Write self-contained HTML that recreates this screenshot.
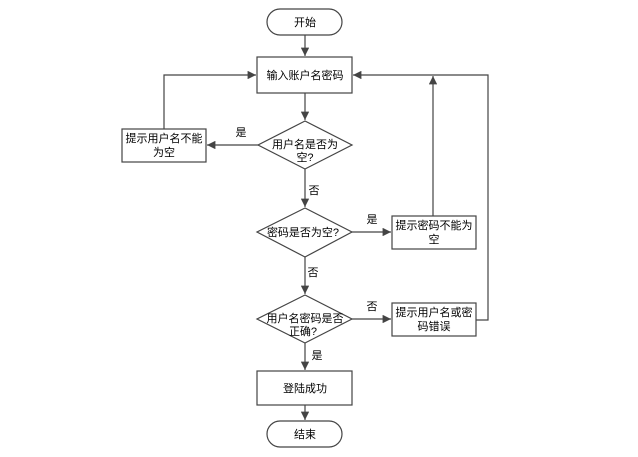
<!DOCTYPE html>
<html><head><meta charset="utf-8"><style>
body{margin:0;background:#fff;}
svg text{font-family:"Liberation Sans","Noto Sans CJK SC",sans-serif;font-size:11px;fill:#000;text-anchor:middle;}
</style></head><body>
<svg width="638" height="452" viewBox="0 0 638 452" xmlns="http://www.w3.org/2000/svg">
<defs><marker id="a" viewBox="0 0 10 10" refX="10" refY="5" markerWidth="7" markerHeight="7" orient="auto"><path d="M0,0 L10,5 L0,10z" fill="#444"/></marker></defs>
<g stroke="#444" stroke-width="1.2" fill="#fff">
<rect x="267" y="9" width="75" height="26" rx="13"/>
<rect x="257" y="57" width="95" height="36"/>
<polygon points="305,121 352,145 305,169 258,145"/>
<rect x="122" y="129" width="84" height="33"/>
<polygon points="305,208 352,232 305,257 257,232"/>
<rect x="392" y="216" width="84" height="33"/>
<polygon points="305,295 352,319 305,343 257,319"/>
<rect x="392" y="303" width="84" height="33"/>
<rect x="257" y="371" width="95" height="34"/>
<rect x="267" y="421" width="75" height="26" rx="13"/>
</g>
<g stroke="#444" stroke-width="1.2" fill="none" marker-end="url(#a)">
<line x1="305" y1="35" x2="305" y2="56"/>
<line x1="305" y1="93" x2="305" y2="120"/>
<line x1="258" y1="145" x2="207" y2="145"/>
<polyline points="164,129 164,75 256,75"/>
<line x1="305" y1="169" x2="305" y2="207"/>
<line x1="352" y1="232" x2="391" y2="232"/>
<line x1="433" y1="216" x2="433" y2="76"/>
<line x1="305" y1="257" x2="305" y2="294"/>
<line x1="352" y1="319" x2="391" y2="319"/>
<polyline points="476,320 488,320 488,75 353,75"/>
<line x1="305" y1="343" x2="305" y2="370"/>
<line x1="305" y1="405" x2="305" y2="420"/>
</g>
<text x="305" y="26">开始</text>
<text x="305" y="79">输入账户名密码</text>
<text x="305" y="148">用户名是否为</text>
<text x="305" y="161">空?</text>
<text x="164" y="142">提示用户名不能</text>
<text x="164" y="156">为空</text>
<text x="241" y="136">是</text>
<text x="314" y="194">否</text>
<text x="303" y="236">密码是否为空?</text>
<text x="372" y="223">是</text>
<text x="434" y="229">提示密码不能为</text>
<text x="434" y="243">空</text>
<text x="313" y="276">否</text>
<text x="305" y="322">用户名密码是否</text>
<text x="303" y="335">正确?</text>
<text x="372" y="310">否</text>
<text x="434" y="316">提示用户名或密</text>
<text x="434" y="330">码错误</text>
<text x="317" y="359">是</text>
<text x="305" y="392">登陆成功</text>
<text x="305" y="438">结束</text>
</svg>
</body></html>
